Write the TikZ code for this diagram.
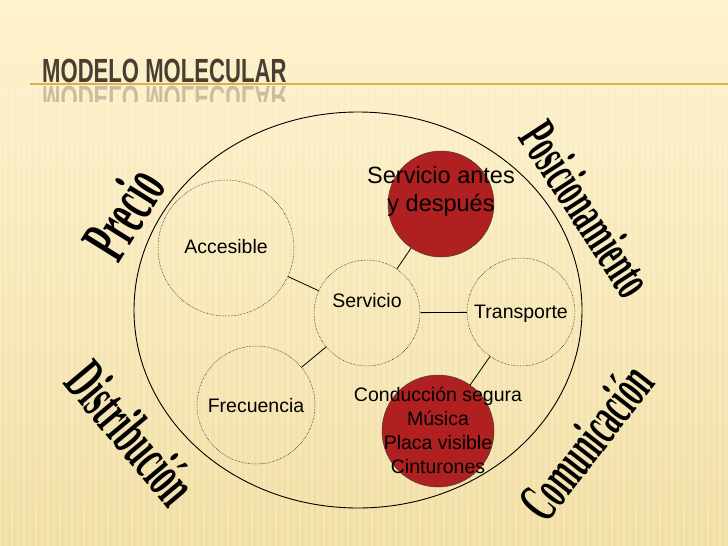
\documentclass[tikz,border=0pt]{standalone}
\usepackage{fontspec}
\setmainfont{Liberation Sans}
\newfontfamily\palabrafont{Liberation Serif}

\definecolor{papel}{RGB}{254,243,206}
\definecolor{papeloscuro}{RGB}{241,222,162}
\definecolor{rojomol}{RGB}{176,32,33}
\definecolor{grisTitulo}{RGB}{72,62,52}
\definecolor{oroLinea}{RGB}{222,172,84}

\begin{document}
\begin{tikzpicture}[x=1pt,y=-1pt,
    bola/.style={circle,draw,densely dotted,line width=0.5pt,minimum size=#1,inner sep=0pt},
    bolaroja/.style={circle,draw=black!75,fill=rojomol,line width=0.5pt,minimum size=#1,inner sep=0pt},
    texto/.style={font=\fontsize{19.5}{24}\selectfont,inner sep=0pt,align=center},
    palabra/.style={font=\palabrafont\bfseries\fontsize{#1}{#1}\selectfont,xscale=0.5,inner sep=0pt},
    enlace/.style={line width=0.8pt},
    titulo/.style={font=\bfseries\fontsize{33.5}{34}\selectfont,text=grisTitulo,xscale=0.66,inner sep=0pt,anchor=base west}]
    \useasboundingbox (0,0) rectangle (728,546);
    \shade[top color=papel,bottom color=papeloscuro] (0,0) rectangle (728,546);
    \begin{scope}
    \clip (0,88) rectangle (728,546);
    \foreach \x in {0,6,...,726}
        \draw[white,opacity=0.22,line width=2pt] (\x,88) -- (\x,546);
    \end{scope}

    \node[titulo] (titulo) at (42,82) {MODELO MOLECULAR};
    \begin{scope}
    \clip (0,84) rectangle (728,101);
    \node[titulo,yscale=-1,opacity=0.28] (reflejo) at (42,86) {MODELO MOLECULAR};
    \end{scope}
    \draw[oroLinea,line width=1.5pt] (30,84) -- (728,84);

    \draw[line width=0.9pt] (358,310) ellipse (224 and 198);

    \node[bola=136] (acc) at (226,248) {};
    \node[bola=106] (serv) at (367,313) {};
    \node[bola=108] (trans) at (521,312) {};
    \node[bola=118] (frec) at (256,405) {};
    \node[bolaroja=106] (antes) at (441,204) {};
    \node[bolaroja=112] (cond) at (438,431) {};

    \draw[enlace] (acc) -- (serv);
    \draw[enlace] (serv) -- (antes);
    \draw[enlace] (serv) -- (trans);
    \draw[enlace] (serv) -- (frec);
    \draw[enlace] (trans) -- (cond);

    \node[texto] (tacc) at (226,247) {Accesible};
    \node[texto] (tserv) at (367,301) {Servicio};
    \node[texto] (ttrans) at (521,314) {Transporte};
    \node[texto] (tfrec) at (256,406) {Frecuencia};
    \node[texto,font=\fontsize{23.5}{28}\selectfont] (tantes) at (441,191) {Servicio antes\\y después};
    \node[texto] (tcond) at (438,430) {Conducción segura\\Música\\Placa visible\\Cinturones};

    \node[rotate=58,palabra=68] (precio) at (123,213) {Precio};
    \node[rotate=-57,palabra=56] (posic) at (587,209) {Posicionamiento};
    \node[rotate=-50,palabra=62] (distr) at (132,433) {Distribución};
    \node[rotate=52,palabra=58] (comun) at (586,442) {Comunicación};
\end{tikzpicture}
\end{document}
